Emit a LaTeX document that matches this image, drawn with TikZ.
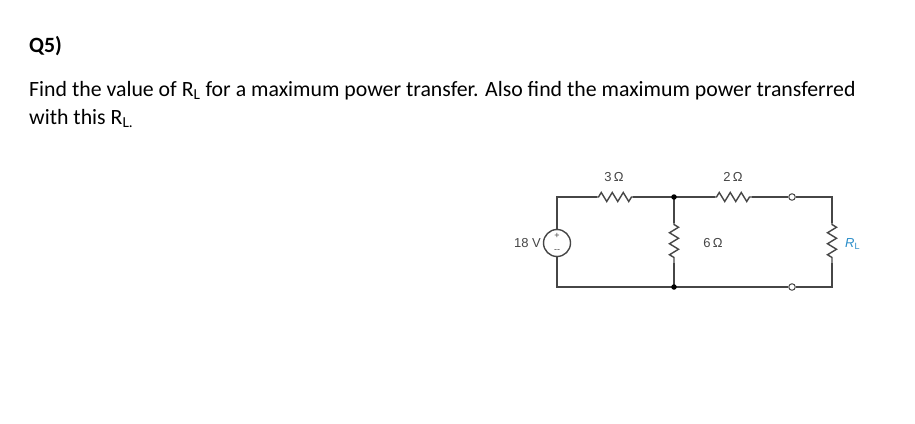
\documentclass[tikz,border=0pt]{standalone}
\usepackage{fontspec}
\setmainfont{Carlito}
\newfontfamily\arial{Liberation Sans}
\usetikzlibrary{decorations.pathmorphing}
\definecolor{wire}{RGB}{70,70,70}
\definecolor{rl}{RGB}{40,140,200}
\begin{document}
\begin{tikzpicture}[x=1pt,y=-1pt,
  w/.style={draw=wire,line width=1.4pt},
  res/.style={w,decorate,decoration={zigzag,segment length=11pt,amplitude=4.5pt,pre length=1.5pt,post length=1.5pt}},
  dot/.style={circle,fill=black,inner sep=0pt,minimum size=5.5pt},
  term/.style={circle,draw=wire,fill=white,line width=1pt,inner sep=0pt,minimum size=6.5pt},
  lab/.style={font=\arial\fontsize{13}{15}\selectfont,text=wire,inner sep=0pt},
  txt/.style={anchor=base west,inner sep=0pt,font=\fontsize{21.8}{25}\selectfont}]
\useasboundingbox (0,0) rectangle (915,423);
\node[txt,font=\bfseries\fontsize{21.8}{25}\selectfont] (q) at (29,52) {Q5)};
\node[txt] (l1) at (29,96) {Find the value of R\textsubscript{L} for a maximum power transfer. Also find the maximum power transferred};
\node[txt] (l2) at (29,124) {with this R\textsubscript{L.}};
% coordinates
\coordinate (tl) at (557,197); \coordinate (bl) at (557,287);
\coordinate (tm) at (674,197); \coordinate (bm) at (674,287);
\coordinate (r3a) at (597,197); \coordinate (r3b) at (633,197);
\coordinate (r2a) at (715,197); \coordinate (r2b) at (752,197);
\coordinate (r6a) at (674,223); \coordinate (r6b) at (674,263);
\coordinate (rla) at (832,223); \coordinate (rlb) at (832,263);
\coordinate (tr) at (832,197); \coordinate (br) at (832,287);
\node[circle,draw=wire,line width=1.4pt,minimum size=27pt,inner sep=0pt] (src) at (557,243) {};
\node[font=\arial\fontsize{9}{9}\selectfont,text=wire,inner sep=0pt] (pl) at (557,236) {+};
\node[font=\arial\fontsize{9}{9}\selectfont,text=wire,inner sep=0pt] (mn) at (557,251) {--};
\node[term] (ta) at (792,197) {};
\node[term] (tb) at (792,287) {};
\draw[w] (src.north) -- (tl) -- (r3a);
\draw[res] (r3a) -- (r3b);
\draw[w] (r3b) -- (tm) -- (r2a);
\draw[res] (r2a) -- (r2b);
\draw[w] (r2b) -- (ta);
\draw[w] (ta) -- (tr) -- (rla);
\draw[res] (rla) -- (rlb);
\draw[w] (rlb) -- (br) -- (tb);
\draw[w] (tb) -- (bm) -- (bl) -- (src.south);
\draw[w] (tm) -- (r6a);
\draw[res] (r6a) -- (r6b);
\draw[w] (r6b) -- (bm);
\node[dot] (d1) at (tm) {};
\node[dot] (d2) at (bm) {};
\node[lab] (l3) at (614,177) {3\,Ω};
\node[lab] (l2o) at (733,177) {2\,Ω};
\node[lab] (l6) at (713,243) {6\,Ω};
\node[lab,anchor=east] (l18) at (541,243) {18 V};
\node[lab,anchor=west,text=rl] (lrl) at (845,244) {\textit{R}\textsubscript{L}};
\end{tikzpicture}
\end{document}
